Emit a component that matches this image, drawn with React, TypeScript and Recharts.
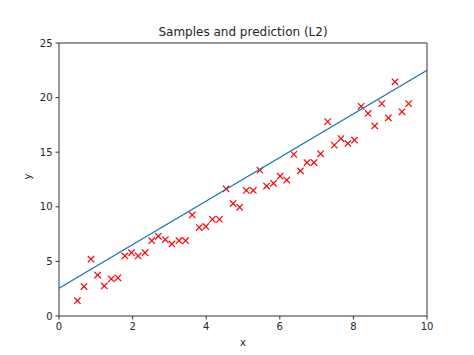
import { ComposedChart, Scatter, XAxis, YAxis, ReferenceLine } from "recharts"

const sampleX = [
  0.5, 0.68, 0.87, 1.05, 1.23, 1.42, 1.6, 1.79, 1.97, 2.15,
  2.34, 2.52, 2.7, 2.89, 3.07, 3.26, 3.44, 3.62, 3.81, 3.99,
  4.17, 4.36, 4.54, 4.73, 4.91, 5.09, 5.28, 5.46, 5.64, 5.83,
  6.01, 6.19, 6.38, 6.56, 6.74, 6.93, 7.11, 7.3, 7.48, 7.66,
  7.85, 8.03, 8.21, 8.4, 8.58, 8.77, 8.95, 9.13, 9.32, 9.5,
]
const sampleY = [
  1.4, 2.7, 5.2, 3.75, 2.75, 3.4, 3.5, 5.5, 5.8, 5.5,
  5.8, 6.9, 7.3, 7.0, 6.6, 6.9, 6.9, 9.25, 8.1, 8.2,
  8.85, 8.85, 11.65, 10.3, 9.95, 11.5, 11.5, 13.35, 11.9, 12.15,
  12.8, 12.45, 14.8, 13.3, 14.05, 14.05, 14.85, 17.8, 15.65, 16.25,
  15.8, 16.1, 19.2, 18.55, 17.4, 19.45, 18.15, 21.45, 18.7, 19.45,
]
const predX = [0, 10]
const predY = [2.55, 22.5]
const xTicks = [0, 2, 4, 6, 8, 10]
const yTicks = [0, 5, 10, 15, 20, 25]

const samples = sampleX.map((x, i) => ({ x, y: sampleY[i] }))
const prediction = predX.map((x, i) => ({ x, y: predY[i] }))

const font = "DejaVu Sans, sans-serif"
const tickStyle = { fontSize: 10, fill: "#262626", fontFamily: font }

function Cross(props: any) {
  const { cx, cy } = props
  const r = 3.2
  return (
    <g stroke="#ff0000" strokeWidth={1.2}>
      <line x1={cx - r} y1={cy - r} x2={cx + r} y2={cy + r} />
      <line x1={cx - r} y1={cy + r} x2={cx + r} y2={cy - r} />
    </g>
  )
}

export default function App() {
  return (
    <div style={{ position: "absolute", left: 0, top: 0, width: 474, height: 355, background: "#fff" }}>
      <ComposedChart width={474} height={355} margin={{ top: 43, right: 47, left: 0, bottom: 0 }}>
        <text x={243} y={36} textAnchor="middle" fontSize={12} fontFamily={font} fill="#262626">
          Samples and prediction (L2)
        </text>
        <XAxis
          type="number"
          dataKey="x"
          domain={[0, 10]}
          ticks={xTicks}
          allowDataOverflow
          height={39}
          tickSize={3.5}
          tickMargin={3}
          stroke="#333"
          tick={tickStyle}
          label={{ value: "x", position: "insideBottom", offset: 9, fontSize: 10, fill: "#262626", fontFamily: font }}
        />
        <YAxis
          type="number"
          dataKey="y"
          domain={[0, 25]}
          ticks={yTicks}
          allowDataOverflow
          width={59}
          tickSize={3.5}
          tickMargin={3}
          stroke="#333"
          tick={tickStyle}
          label={{ value: "y", angle: -90, position: "insideLeft", offset: 27, fontSize: 10, fill: "#262626", fontFamily: font }}
        />
        <ReferenceLine x={10} stroke="#333" />
        <ReferenceLine y={25} stroke="#333" />
        <Scatter data={samples} shape={Cross} isAnimationActive={false} />
        <Scatter
          data={prediction}
          line={{ stroke: "#1f77b4", strokeWidth: 1.3 }}
          shape={() => <g />}
          isAnimationActive={false}
        />
      </ComposedChart>
    </div>
  )
}
